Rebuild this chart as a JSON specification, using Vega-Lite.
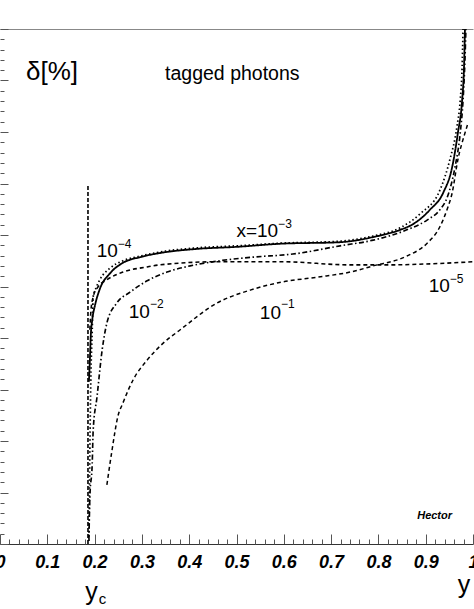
{
  "$schema": "https://vega.github.io/schema/vega-lite/v6.json",
  "width": 473,
  "height": 515,
  "autosize": {"type": "none"},
  "padding": {"left": 0, "top": 29, "right": 1, "bottom": 65},
  "background": "white",
  "config": {"view": {"stroke": null}, "font": "Liberation Sans", "text": {"font": "Liberation Sans", "color": "black"}},
  "datasets": {
    "curves": [
      {"s": "1e-3", "x": 0.188, "y": 3.15},
      {"s": "1e-3", "x": 0.190, "y": 3.57},
      {"s": "1e-3", "x": 0.192, "y": 4.06},
      {"s": "1e-3", "x": 0.195, "y": 4.35},
      {"s": "1e-3", "x": 0.201, "y": 4.64},
      {"s": "1e-3", "x": 0.211, "y": 4.95},
      {"s": "1e-3", "x": 0.233, "y": 5.26},
      {"s": "1e-3", "x": 0.260, "y": 5.46},
      {"s": "1e-3", "x": 0.296, "y": 5.57},
      {"s": "1e-3", "x": 0.338, "y": 5.65},
      {"s": "1e-3", "x": 0.416, "y": 5.73},
      {"s": "1e-3", "x": 0.501, "y": 5.77},
      {"s": "1e-3", "x": 0.592, "y": 5.83},
      {"s": "1e-3", "x": 0.719, "y": 5.86},
      {"s": "1e-3", "x": 0.789, "y": 5.96},
      {"s": "1e-3", "x": 0.846, "y": 6.10},
      {"s": "1e-3", "x": 0.873, "y": 6.21},
      {"s": "1e-3", "x": 0.909, "y": 6.49},
      {"s": "1e-3", "x": 0.937, "y": 6.82},
      {"s": "1e-3", "x": 0.956, "y": 7.32},
      {"s": "1e-3", "x": 0.968, "y": 7.98},
      {"s": "1e-3", "x": 0.977, "y": 8.62},
      {"s": "1e-3", "x": 0.981, "y": 9.26},
      {"s": "1e-3", "x": 0.983, "y": 10.0},

      {"s": "1e-4", "x": 0.188, "y": 0.06},
      {"s": "1e-4", "x": 0.190, "y": 1.83},
      {"s": "1e-4", "x": 0.192, "y": 3.18},
      {"s": "1e-4", "x": 0.195, "y": 4.16},
      {"s": "1e-4", "x": 0.197, "y": 4.80},
      {"s": "1e-4", "x": 0.203, "y": 4.97},
      {"s": "1e-4", "x": 0.211, "y": 5.13},
      {"s": "1e-4", "x": 0.233, "y": 5.36},
      {"s": "1e-4", "x": 0.260, "y": 5.50},
      {"s": "1e-4", "x": 0.296, "y": 5.59},
      {"s": "1e-4", "x": 0.338, "y": 5.67},
      {"s": "1e-4", "x": 0.416, "y": 5.75},
      {"s": "1e-4", "x": 0.501, "y": 5.79},
      {"s": "1e-4", "x": 0.592, "y": 5.84},
      {"s": "1e-4", "x": 0.719, "y": 5.88},
      {"s": "1e-4", "x": 0.789, "y": 5.98},
      {"s": "1e-4", "x": 0.846, "y": 6.14},
      {"s": "1e-4", "x": 0.888, "y": 6.41},
      {"s": "1e-4", "x": 0.930, "y": 6.87},
      {"s": "1e-4", "x": 0.951, "y": 7.46},
      {"s": "1e-4", "x": 0.966, "y": 8.10},
      {"s": "1e-4", "x": 0.973, "y": 8.62},
      {"s": "1e-4", "x": 0.977, "y": 9.26},
      {"s": "1e-4", "x": 0.979, "y": 10.0},

      {"s": "1e-2", "x": 0.188, "y": 0.08},
      {"s": "1e-2", "x": 0.190, "y": 0.91},
      {"s": "1e-2", "x": 0.195, "y": 1.57},
      {"s": "1e-2", "x": 0.197, "y": 2.21},
      {"s": "1e-2", "x": 0.205, "y": 2.85},
      {"s": "1e-2", "x": 0.216, "y": 3.77},
      {"s": "1e-2", "x": 0.226, "y": 4.29},
      {"s": "1e-2", "x": 0.247, "y": 4.68},
      {"s": "1e-2", "x": 0.275, "y": 4.89},
      {"s": "1e-2", "x": 0.311, "y": 5.11},
      {"s": "1e-2", "x": 0.353, "y": 5.28},
      {"s": "1e-2", "x": 0.402, "y": 5.40},
      {"s": "1e-2", "x": 0.465, "y": 5.50},
      {"s": "1e-2", "x": 0.535, "y": 5.57},
      {"s": "1e-2", "x": 0.619, "y": 5.63},
      {"s": "1e-2", "x": 0.719, "y": 5.79},
      {"s": "1e-2", "x": 0.789, "y": 5.90},
      {"s": "1e-2", "x": 0.860, "y": 6.10},
      {"s": "1e-2", "x": 0.903, "y": 6.29},
      {"s": "1e-2", "x": 0.930, "y": 6.49},
      {"s": "1e-2", "x": 0.945, "y": 6.72},
      {"s": "1e-2", "x": 0.962, "y": 7.32},
      {"s": "1e-2", "x": 0.973, "y": 7.98},
      {"s": "1e-2", "x": 0.979, "y": 8.62},
      {"s": "1e-2", "x": 0.983, "y": 9.40},
      {"s": "1e-2", "x": 0.985, "y": 10.0},

      {"s": "1e-5", "x": 0.190, "y": 4.16},
      {"s": "1e-5", "x": 0.192, "y": 4.50},
      {"s": "1e-5", "x": 0.197, "y": 4.80},
      {"s": "1e-5", "x": 0.207, "y": 4.99},
      {"s": "1e-5", "x": 0.226, "y": 5.13},
      {"s": "1e-5", "x": 0.260, "y": 5.28},
      {"s": "1e-5", "x": 0.311, "y": 5.38},
      {"s": "1e-5", "x": 0.338, "y": 5.42},
      {"s": "1e-5", "x": 0.459, "y": 5.48},
      {"s": "1e-5", "x": 0.598, "y": 5.48},
      {"s": "1e-5", "x": 0.740, "y": 5.42},
      {"s": "1e-5", "x": 0.825, "y": 5.42},
      {"s": "1e-5", "x": 0.909, "y": 5.44},
      {"s": "1e-5", "x": 1.0, "y": 5.48},

      {"s": "1e-1", "x": 0.226, "y": 1.15},
      {"s": "1e-1", "x": 0.237, "y": 1.83},
      {"s": "1e-1", "x": 0.249, "y": 2.47},
      {"s": "1e-1", "x": 0.260, "y": 2.74},
      {"s": "1e-1", "x": 0.281, "y": 3.18},
      {"s": "1e-1", "x": 0.311, "y": 3.57},
      {"s": "1e-1", "x": 0.345, "y": 3.90},
      {"s": "1e-1", "x": 0.381, "y": 4.16},
      {"s": "1e-1", "x": 0.459, "y": 4.68},
      {"s": "1e-1", "x": 0.529, "y": 4.93},
      {"s": "1e-1", "x": 0.598, "y": 5.09},
      {"s": "1e-1", "x": 0.670, "y": 5.18},
      {"s": "1e-1", "x": 0.740, "y": 5.28},
      {"s": "1e-1", "x": 0.789, "y": 5.40},
      {"s": "1e-1", "x": 0.860, "y": 5.59},
      {"s": "1e-1", "x": 0.903, "y": 5.84},
      {"s": "1e-1", "x": 0.930, "y": 6.16},
      {"s": "1e-1", "x": 0.945, "y": 6.49},
      {"s": "1e-1", "x": 0.956, "y": 6.82},
      {"s": "1e-1", "x": 0.968, "y": 7.46},
      {"s": "1e-1", "x": 0.983, "y": 7.98},
      {"s": "1e-1", "x": 0.989, "y": 8.16}
    ],
    "yc": [
      {"x": 0.186, "y": 0.0},
      {"x": 0.186, "y": 6.97}
    ],
    "labels": [
      {"base": "10", "exp": "−4", "x": 0.249, "yb": 5.57, "ye": 5.75},
      {"base": "x=10", "exp": "−3", "x": 0.588, "yb": 5.96, "ye": 6.14},
      {"base": "10", "exp": "−2", "x": 0.317, "yb": 4.39, "ye": 4.58},
      {"base": "10", "exp": "−1", "x": 0.594, "yb": 4.37, "ye": 4.58},
      {"base": "10", "exp": "−5", "x": 0.951, "yb": 4.89, "ye": 5.07}
    ]
  },
  "layer": [
    {
      "data": {"name": "curves"},
      "mark": {"type": "line", "interpolate": "monotone", "color": "black", "clip": true},
      "encoding": {
        "x": {"field": "x", "type": "quantitative",
          "scale": {"domain": [0, 1], "nice": false, "zero": false},
          "axis": {"orient": "bottom", "values": [0, 0.1, 0.2, 0.3, 0.4, 0.5, 0.6, 0.7, 0.8, 0.9, 1],
            "format": "~g", "tickSize": -10, "tickColor": "#555", "tickWidth": 1,
            "domainColor": "#333", "domainWidth": 1.2,
            "labelFont": "Liberation Sans", "labelFontWeight": "bold", "labelFontStyle": "italic",
            "labelFontSize": 18, "labelColor": "black", "labelPadding": 19,
            "labelFlush": false, "labelOverlap": false, "labelBound": false,
            "title": null, "grid": false}},
        "y": {"field": "y", "type": "quantitative",
          "scale": {"domain": [0, 10], "nice": false, "zero": false},
          "axis": {"orient": "left", "values": [0, 1, 2, 3, 4, 5, 6, 7, 8, 9, 10],
            "tickSize": -8, "tickColor": "#555", "labels": false, "domain": false,
            "title": null, "grid": false}},
        "detail": {"field": "s"},
        "strokeDash": {"field": "s", "type": "nominal", "legend": null,
          "scale": {"domain": ["1e-3", "1e-4", "1e-2", "1e-5", "1e-1"],
            "range": [[1, 0], [1.5, 2.5], [5, 2.5, 1.5, 2.5], [4, 3], [4, 3]]}},
        "strokeWidth": {"field": "s", "type": "nominal", "legend": null,
          "scale": {"domain": ["1e-3", "1e-4", "1e-2", "1e-5", "1e-1"],
            "range": [1.8, 1.5, 1.4, 1.5, 1.5]}}
      }
    },
    {
      "data": {"name": "yc"},
      "mark": {"type": "line", "color": "black", "strokeWidth": 1.6, "strokeDash": [4, 2]},
      "encoding": {
        "x": {"field": "x", "type": "quantitative",
          "scale": {"domain": [0, 1], "nice": false, "zero": false},
          "axis": {"orient": "bottom", "values": [0.02, 0.04, 0.06, 0.08, 0.12, 0.14, 0.16, 0.18, 0.22, 0.24, 0.26, 0.28, 0.32, 0.34, 0.36, 0.38, 0.42, 0.44, 0.46, 0.48, 0.52, 0.54, 0.56, 0.58, 0.62, 0.64, 0.66, 0.68, 0.72, 0.74, 0.76, 0.78, 0.82, 0.84, 0.86, 0.88, 0.92, 0.94, 0.96, 0.98],
            "tickSize": -5, "tickColor": "#555", "labels": false, "domain": false, "title": null, "grid": false}},
        "y": {"field": "y", "type": "quantitative",
          "scale": {"domain": [0, 10], "nice": false, "zero": false},
          "axis": {"orient": "left", "values": [0.2, 0.4, 0.6, 0.8, 1.2, 1.4, 1.6, 1.8, 2.2, 2.4, 2.6, 2.8, 3.2, 3.4, 3.6, 3.8, 4.2, 4.4, 4.6, 4.8, 5.2, 5.4, 5.6, 5.8, 6.2, 6.4, 6.6, 6.8, 7.2, 7.4, 7.6, 7.8, 8.2, 8.4, 8.6, 8.8, 9.2, 9.4, 9.6, 9.8],
            "tickSize": -4, "tickColor": "#555", "labels": false, "domain": false, "title": null, "grid": false}}
      }
    },
    {
      "data": {"name": "labels"},
      "mark": {"type": "text", "align": "right", "baseline": "alphabetic", "fontSize": 19, "font": "Liberation Sans"},
      "encoding": {
        "x": {"field": "x", "type": "quantitative", "scale": {"domain": [0, 1], "nice": false, "zero": false},
          "axis": {"orient": "top", "ticks": false, "labels": false, "domainColor": "#888", "domainWidth": 1.2, "title": null, "grid": false}},
        "y": {"field": "yb", "type": "quantitative", "scale": {"domain": [0, 10], "nice": false, "zero": false}, "axis": null},
        "text": {"field": "base"}
      }
    },
    {
      "data": {"name": "labels"},
      "mark": {"type": "text", "align": "left", "baseline": "alphabetic", "fontSize": 12, "font": "Liberation Sans"},
      "encoding": {
        "x": {"field": "x", "type": "quantitative", "scale": {"domain": [0, 1], "nice": false, "zero": false}, "axis": null},
        "y": {"field": "ye", "type": "quantitative", "scale": {"domain": [0, 10], "nice": false, "zero": false}, "axis": null},
        "text": {"field": "exp"}
      }
    },
    {
      "data": {"values": [{"t": "δ[%]", "x": 0.055, "y": 9.01}]},
      "mark": {"type": "text", "align": "left", "baseline": "alphabetic", "fontSize": 26, "font": "Liberation Sans"},
      "encoding": {
        "x": {"field": "x", "type": "quantitative", "scale": {"domain": [0, 1], "nice": false, "zero": false}, "axis": null},
        "y": {"field": "y", "type": "quantitative", "scale": {"domain": [0, 10], "nice": false, "zero": false}, "axis": null},
        "text": {"field": "t"}
      }
    },
    {
      "data": {"values": [{"t": "tagged photons", "x": 0.349, "y": 9.01}]},
      "mark": {"type": "text", "align": "left", "baseline": "alphabetic", "fontSize": 19.5, "font": "Liberation Sans"},
      "encoding": {
        "x": {"field": "x", "type": "quantitative", "scale": {"domain": [0, 1], "nice": false, "zero": false}, "axis": null},
        "y": {"field": "y", "type": "quantitative", "scale": {"domain": [0, 10], "nice": false, "zero": false}, "axis": null},
        "text": {"field": "t"}
      }
    },
    {
      "data": {"values": [{"t": "Hector", "x": 0.882, "y": 0.49}]},
      "mark": {"type": "text", "align": "left", "baseline": "alphabetic", "fontSize": 11, "fontWeight": "bold", "fontStyle": "italic", "font": "Liberation Sans"},
      "encoding": {
        "x": {"field": "x", "type": "quantitative", "scale": {"domain": [0, 1], "nice": false, "zero": false}, "axis": null},
        "y": {"field": "y", "type": "quantitative", "scale": {"domain": [0, 10], "nice": false, "zero": false}, "axis": null},
        "text": {"field": "t"}
      }
    },
    {
      "data": {"values": [{"t": "y", "x": 0.18, "y": -1.09}, {"t": "y", "x": 0.968, "y": -0.95}]},
      "mark": {"type": "text", "align": "left", "baseline": "alphabetic", "fontSize": 25, "font": "Liberation Sans"},
      "encoding": {
        "x": {"field": "x", "type": "quantitative", "scale": {"domain": [0, 1], "nice": false, "zero": false}, "axis": null},
        "y": {"field": "y", "type": "quantitative", "scale": {"domain": [0, 10], "nice": false, "zero": false}, "axis": null},
        "text": {"field": "t"}
      }
    },
    {
      "data": {"values": [{"t": "c", "x": 0.209, "y": -1.17}]},
      "mark": {"type": "text", "align": "left", "baseline": "alphabetic", "fontSize": 15, "font": "Liberation Sans"},
      "encoding": {
        "x": {"field": "x", "type": "quantitative", "scale": {"domain": [0, 1], "nice": false, "zero": false}, "axis": null},
        "y": {"field": "y", "type": "quantitative", "scale": {"domain": [0, 10], "nice": false, "zero": false}, "axis": null},
        "text": {"field": "t"}
      }
    }
  ],
  "resolve": {"axis": {"x": "independent", "y": "independent"}}
}
